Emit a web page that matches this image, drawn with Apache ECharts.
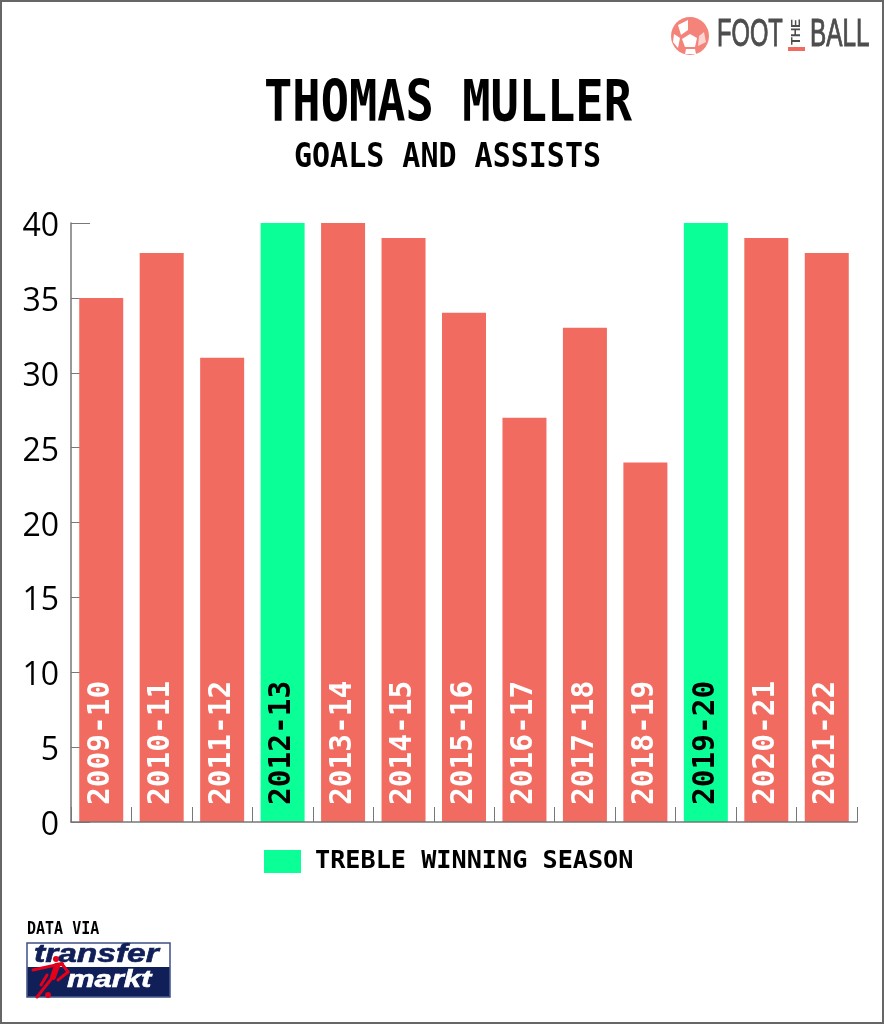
<!DOCTYPE html>
<html><head><meta charset="utf-8">
<style>html,body{margin:0;padding:0;background:#fff}#c{width:884px;height:1024px}</style>
<script src="https://cdn.jsdelivr.net/npm/echarts@6/dist/echarts.min.js"></script>
</head><body><div id="c"></div>
<script>
const seasons = ['2009-10','2010-11','2011-12','2012-13','2013-14','2014-15','2015-16','2016-17','2017-18','2018-19','2019-20','2020-21','2021-22'];
const regularValues = [35,38,31,null,40,39,34,27,33,24,null,39,38];
const trebleValues = [null,null,null,40,null,null,null,null,null,null,40,null,null];
const yTicks = {min:0,max:40,interval:5};
const titleText = 'THOMAS MULLER';
const subtitleText = 'GOALS AND ASSISTS';
const legendText = 'TREBLE WINNING SEASON';
const RED='#F26B60', GREEN='#0BFF97', MONO='"DejaVu Sans Mono","Liberation Mono",monospace';
const chart = echarts.init(document.getElementById('c'),null,{renderer:'canvas'});
const ln=(x1,y1,x2,y2,stroke,w)=>({type:'line',shape:{x1,y1,x2,y2},style:{stroke,lineWidth:w,lineCap:'round'},silent:true});
const txt=(text,x,y,font,fill,align,sx,sy,extra,sw)=>Object.assign({type:'text',x,y,scaleX:sx||1,scaleY:sy||1,style:Object.assign({text,font,fill,textAlign:align||'left',textVerticalAlign:'middle'},sw?{stroke:fill,lineWidth:sw}:{}),silent:true},extra||{});
const poly=(points,fill)=>({type:'polygon',shape:{points},style:{fill},silent:true});
chart.setOption({
  animation:false,
  backgroundColor:'#fff',
  grid:{left:71,right:27,top:223,bottom:202,containLabel:false},
  legend:{data:[legendText],left:264,top:849,padding:0,itemWidth:37,itemHeight:23,icon:'rect',selectedMode:false,
    textStyle:{fontFamily:MONO,fontWeight:'bold',fontSize:25.2,color:'#000',padding:[3,0,0,9]}},
  xAxis:{type:'category',data:seasons,z:5,
    axisLine:{lineStyle:{color:'#777',width:1.5}},
    axisTick:{show:true,inside:true,length:15,alignWithLabel:false,lineStyle:{color:'#777',width:1}},
    axisLabel:{inside:true,rotate:90,interval:0,margin:17,fontFamily:MONO,fontWeight:'bold',fontSize:29.5,
      color:(v)=>trebleValues[seasons.indexOf(v)]!=null?'#000':'#fff'}},
  yAxis:{type:'value',min:yTicks.min,max:yTicks.max,interval:yTicks.interval,z:0,
    splitLine:{show:false},
    axisLine:{show:true,lineStyle:{color:'#777',width:1.5}},
    axisTick:{show:true,inside:true,length:19,lineStyle:{color:'#777',width:1}},
    axisLabel:{margin:12,fontFamily:'"Open Sans"',fontSize:32,color:'#000',verticalAlign:'top',lineHeight:8}},
  series:[
    {name:'Goals and assists',type:'bar',data:regularValues,barWidth:44,barGap:'-100%',itemStyle:{color:RED},z:2},
    {name:legendText,type:'bar',data:trebleValues,barWidth:44,barGap:'-100%',itemStyle:{color:GREEN},z:2}
  ],
  graphic:{elements:[
    {type:'rect',shape:{x:1,y:1,width:882,height:1022},style:{fill:'none',stroke:'#666',lineWidth:2},silent:true,z:100},
    txt(titleText,448,106,'bold 47px '+MONO,'#000','center',1,1.2),
    txt(subtitleText,447.5,158.5,'bold 30px '+MONO,'#000','center',1,1.14),
    txt('DATA VIA',27,929.5,'bold 15px '+MONO,'#000','left',1,1.2),
    /* foot the ball logo */
    {type:'circle',shape:{cx:690,cy:36,r:19},style:{fill:'#F4837A'},silent:true},
    poly([[690,34],[697,38],[695,47],[685,47],[682,39]],'#fff'),
    poly([[674,34],[680,38],[678,48],[673,42]],'#fff'),
    poly([[678,25],[688,20],[688,30],[681,35]],'#fff'),
    poly([[699,36],[704,32],[706,42],[698,46]],'#fbd5d1'),
    poly([[686,49],[695,49],[696,54],[685,54]],'#fff'),
    txt('FOOT',717,35.5,'32px "Liberation Sans"','#4d4d4d','left',0.74,1.2,null,0.8),
    txt('BALL',810,35.5,'32px "Liberation Sans"','#4d4d4d','left',0.76,1.2,null,0.8),
    txt('THE',796,32,'bold 13px "Liberation Sans"','#4d4d4d','center',1,1,{rotation:Math.PI/2}),
    {type:'rect',shape:{x:788,y:47,width:17,height:4},style:{fill:RED},silent:true},
    /* transfermarkt logo */
    {type:'rect',shape:{x:27,y:943,width:143,height:54},style:{fill:'#fff',stroke:'#3d4f86',lineWidth:1.5},silent:true},
    {type:'rect',shape:{x:27.5,y:967,width:142,height:29.5},style:{fill:'#101f58'},silent:true},
    txt('transfer',34,955.5,'italic bold 25px "Liberation Sans"','#101f58','left',1.34,1,null,0.6),
    txt('markt',67,980,'italic bold 24px "Liberation Sans"','#fff','left',1.29,1,null,0.6),
    {type:'circle',shape:{cx:56,cy:959,r:3},style:{fill:'#e2001a'},silent:true},
    {type:'circle',shape:{cx:48,cy:995,r:3},style:{fill:'#e2001a'},silent:true},
    ln(33,970,56,965,'#e2001a',3),
    ln(56,965,62,964,'#e2001a',4),
    ln(62,964,68,972,'#e2001a',3),
    ln(68,972,58,980,'#e2001a',3),
    ln(57,966,53,977,'#e2001a',6),
    ln(52,978,37,997,'#e2001a',3),
    ln(47,975,41,985,'#e2001a',3)
  ]}
});
</script></body></html>
